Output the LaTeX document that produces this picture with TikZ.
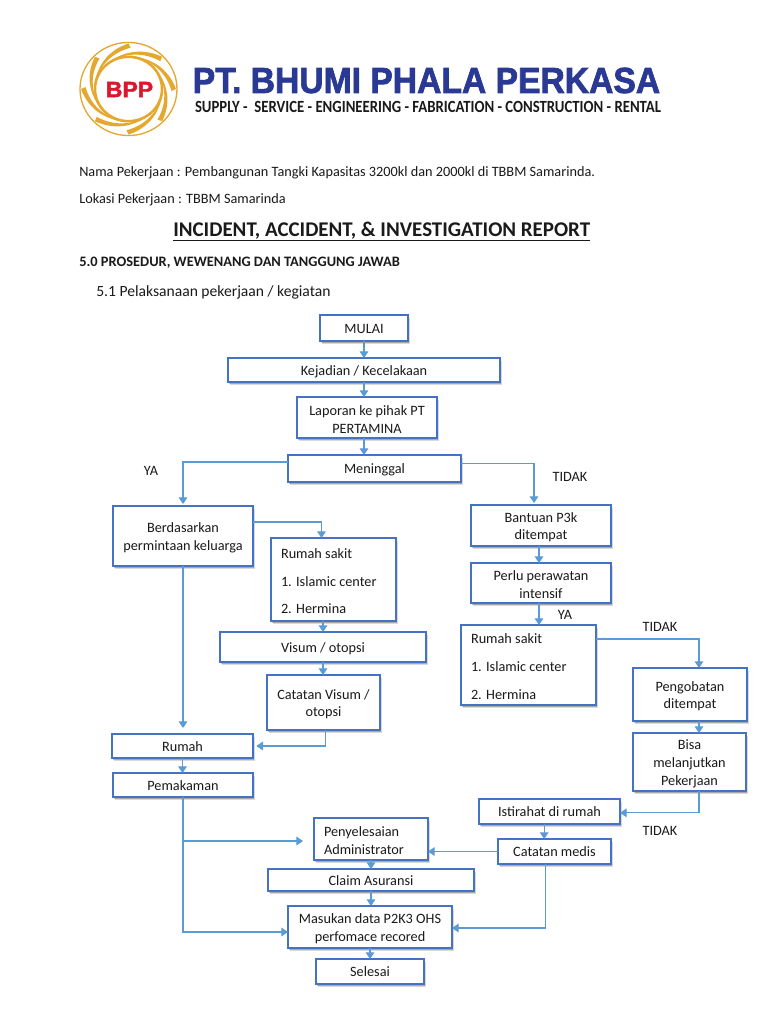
\documentclass[tikz,border=0pt]{standalone}
\usepackage{fontspec}
\usepackage{graphicx}
\setmainfont{Carlito}
\newfontfamily\logofont[FakeBold=2]{Liberation Sans Bold}
\usetikzlibrary{arrows.meta,shadows,calc}
\definecolor{boxblue}{HTML}{4472C4}
\definecolor{linkblue}{HTML}{5B9BD5}
\definecolor{gold}{HTML}{E5A82E}
\definecolor{logoblue}{HTML}{2A3A94}
\definecolor{logored}{HTML}{D9182D}
\definecolor{ink}{HTML}{1A1A1A}
\tikzset{
  x=0.75pt,y=-0.75pt,
  every node/.style={font=\fontsize{10.7}{13.4}\selectfont,text=ink},
  flowbox/.style={draw=boxblue,line width=1.1pt,fill=white,inner sep=0pt,outer sep=0pt,align=center,
    drop shadow={shadow xshift=0.4pt,shadow yshift=-0.8pt,opacity=.22,fill=black},
    drop shadow={shadow xshift=1pt,shadow yshift=-1.6pt,opacity=.22,fill=black},
    drop shadow={shadow xshift=1.5pt,shadow yshift=-2.4pt,opacity=.15,fill=black}},
  leftbox/.style={flowbox,align=left},
  conn/.style={draw=linkblue,line width=0.8pt,-{Triangle[length=5pt,width=6.5pt]}},
  plainlink/.style={draw=linkblue,line width=0.8pt},
  caption/.style={anchor=base west,inner sep=0pt},
  edgelabel/.style={anchor=center,inner sep=0pt},
}
% name, x1, y1, x2, y2, style, text
\newcommand{\boxnode}[7]{%
  \pgfmathsetmacro{\bw}{(#4-#2)*0.75}%
  \pgfmathsetmacro{\bh}{(#5-#3)*0.75}%
  \node[#6,minimum width=\bw pt,minimum height=\bh pt] (#1) at ({(#2+#4)/2},{(#3+#5)/2}) {\rule[-2.3pt]{0pt}{12.2pt}#7};%
}
\begin{document}
\begin{tikzpicture}
\useasboundingbox (0,0) rectangle (768,1024);
\fill[white] (0,0) rectangle (768,1024);

% ---- logo ----
\begin{scope}[shift={(128.5,89)},yscale=0.96]
  \draw[gold,line width=1pt] (0,0) circle[radius=48.5];
  \foreach \a in {0,45,...,315}{
    \fill[gold,rotate=\a] (47.5,0) .. controls (41,-18) and (28,-30) .. (6,-34)
       .. controls (26,-28) and (38,-16) .. (43,2) -- cycle;
  }
  \draw[gold,line width=1.9pt] (0,0) circle[radius=33.5];
\end{scope}
\node[inner sep=0pt] (logobpp) at (129.5,89.5) {\resizebox{35.5pt}{11.3pt}{\logofont\color{logored}BPP}};
\node[inner sep=0pt] (logoname) at (426.5,80.5) {\resizebox{350.5pt}{19pt}{\logofont\color{logoblue}PT. BHUMI PHALA PERKASA}};
\node[inner sep=0pt] (logosub) at (428,107) {\resizebox{349.5pt}{8.4pt}{\bfseries\color{ink}SUPPLY -\ \ SERVICE - ENGINEERING - FABRICATION - CONSTRUCTION - RENTAL}};

% ---- header texts ----
\node[caption] (nama) at (79,176) {Nama Pekerjaan : Pembangunan Tangki Kapasitas 3200kl dan 2000kl di TBBM Samarinda.};
\node[caption] (lokasi) at (79,203) {Lokasi Pekerjaan : TBBM Samarinda};
\node[caption,font=\fontsize{15.7}{18}\selectfont\bfseries] (judul) at (173,236) {\underline{INCIDENT, ACCIDENT, \& INVESTIGATION REPORT}};
\node[caption,font=\fontsize{10.8}{13}\selectfont\bfseries] (bab) at (79,266) {5.0 PROSEDUR, WEWENANG DAN TANGGUNG JAWAB};
\node[caption,font=\fontsize{11.7}{14}\selectfont] (subbab) at (96,296) {5.1 Pelaksanaan pekerjaan / kegiatan};

% ---- boxes ----
\boxnode{mulai}{320}{315}{408}{341}{flowbox}{MULAI}
\boxnode{kejadian}{228}{358}{500}{382}{flowbox}{Kejadian / Kecelakaan}
\boxnode{laporan}{297}{397}{437}{438}{flowbox}{Laporan ke pihak PT\\PERTAMINA}
\boxnode{meninggal}{288}{455}{461}{482}{flowbox}{Meninggal}
\boxnode{berdasar}{113}{506}{253}{566}{flowbox}{Berdasarkan\\permintaan keluarga}
\boxnode{rsleft}{271}{538}{396}{621}{leftbox}{\makebox[105\dimexpr0.75pt\relax][l]{Rumah sakit}\\[7.3pt]1. Islamic center\\[7.3pt]2. Hermina}
\boxnode{visum}{220}{632}{426}{662}{flowbox}{Visum / otopsi}
\boxnode{catvisum}{267}{675}{380}{730}{flowbox}{Catatan Visum /\\otopsi}
\boxnode{rumah}{112}{734}{253}{758}{flowbox}{Rumah}
\boxnode{makam}{113}{773}{253}{797}{flowbox}{Pemakaman}
\boxnode{admin}{314}{818}{428}{860}{leftbox}{\makebox[94\dimexpr0.75pt\relax][l]{Penyelesaian}\\Administrator}
\boxnode{claim}{268}{869}{474}{891}{flowbox}{Claim Asuransi}
\boxnode{masukan}{288}{906}{452}{948}{flowbox}{Masukan data P2K3 OHS\\perfomace recored}
\boxnode{selesai}{316}{959}{424}{984}{flowbox}{Selesai}
\boxnode{bantuan}{471}{505}{611}{546}{flowbox}{Bantuan P3k\\ditempat}
\boxnode{perlu}{471}{563}{611}{603}{flowbox}{Perlu perawatan\\intensif}
\boxnode{rsright}{461}{625}{596}{705}{leftbox}{\makebox[115\dimexpr0.75pt\relax][l]{Rumah sakit}\\[7.3pt]1. Islamic center\\[7.3pt]2. Hermina}
\boxnode{obat}{633}{668}{747}{721}{flowbox}{Pengobatan\\ditempat}
\boxnode{bisa}{633}{733}{746}{791}{flowbox}{Bisa\\melanjutkan\\Pekerjaan}
\boxnode{istirahat}{479}{799}{620}{824}{flowbox}{Istirahat di rumah}
\boxnode{medis}{498}{839}{611}{864}{flowbox}{Catatan medis}

% ---- named free ends and bends ----
\coordinate (ujungrumah) at (183,728);
\coordinate (cabang) at (183,841);
\coordinate (ujungadmin) at (303,841);
\coordinate (kanan) at (699,700);

% ---- connectors ----
\draw[conn] (mulai.south) -- (mulai.south |- kejadian.north);
\draw[conn] (kejadian.south) -- (kejadian.south |- laporan.north);
\draw[conn] ([xshift=-2.25pt]laporan.south) -- ([xshift=-2.25pt]laporan.south |- meninggal.north);
\draw[conn] ([yshift=4.9pt]meninggal.west) -| ([yshift=1.5pt]berdasar.north);
\draw[conn] ([yshift=4pt]meninggal.east) -| ([xshift=-5.25pt,yshift=1.5pt]bantuan.north);
\draw[conn] ([yshift=10.5pt]berdasar.east) -| ([xshift=-9pt]rsleft.north);
\draw[conn] (berdasar.south) -- (berdasar.south |- ujungrumah);
\draw[conn] (rsleft.south -| visum.north) -- (visum.north);
\draw[conn] (visum.south) -- (visum.south |- catvisum.north);
\draw[conn] ([xshift=1.5pt]catvisum.south) |- ([xshift=2.5pt]rumah.east);
\draw[conn] (rumah.south) -- (rumah.south |- makam.north);
\draw[plainlink] (makam.south) -- (cabang);
\draw[conn] (cabang) -- (ujungadmin);
\draw[conn] (cabang) |- ([yshift=-3.75pt]masukan.west);
\draw[conn] (medis.west) -- (medis.west -| admin.east);
\draw[conn] ([xshift=-6.75pt]medis.south) |- ([yshift=-0.75pt]masukan.east);
\draw[conn] ([xshift=-1.5pt]bantuan.south) -- ([xshift=-1.5pt]bantuan.south |- perlu.north);
\draw[conn] ([xshift=-1.5pt]perlu.south) -- ([xshift=-1.5pt]perlu.south |- rsright.north);
\draw[conn] ([yshift=19.5pt]rsright.east) -| (kanan |- obat.north);
\draw[conn] (kanan |- obat.south) -- (kanan |- bisa.north);
\draw[conn] (kanan |- bisa.south) |- ([yshift=-1pt]istirahat.east);
\draw[conn] ([xshift=-4pt]istirahat.south) -- ([xshift=-4pt]istirahat.south |- medis.north);
\draw[conn] (admin.south) -- (admin.south |- claim.north);
\draw[conn] (claim.south) -- (claim.south |- masukan.north);
\draw[conn] (masukan.south) -- (masukan.south |- selesai.north);

% ---- labels ----
\node[edgelabel] (ya1) at (151,471) {YA};
\node[edgelabel] (tidak1) at (570,477) {TIDAK};
\node[edgelabel] (ya2) at (565,615) {YA};
\node[edgelabel] (tidak2) at (660,627) {TIDAK};
\node[edgelabel] (tidak3) at (660,831) {TIDAK};
\end{tikzpicture}
\end{document}
